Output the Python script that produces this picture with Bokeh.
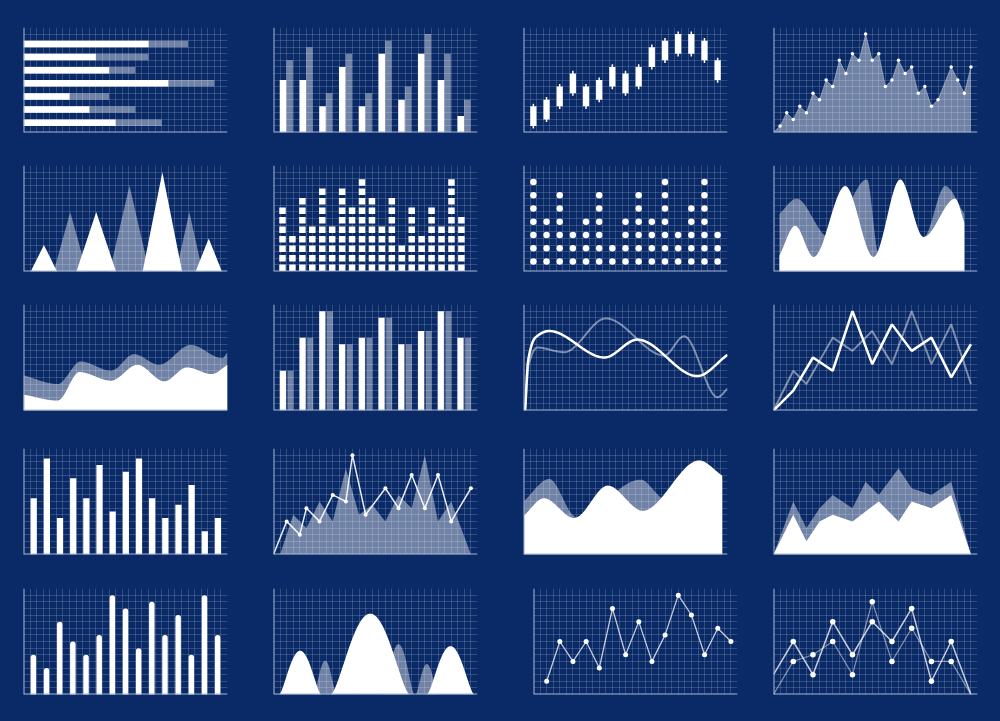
import numpy as np
from bokeh.plotting import figure
from bokeh.layouts import column, row
from bokeh.models import Range1d, FixedTicker, Span, GlobalInlineStyleSheet
from bokeh.embed import file_html
from bokeh.resources import INLINE

# ---------------- data (in grid units) ----------------
# 1 horizontal bars
hbar_white = [19, 11, 13, 22, 7, 10, 14]
hbar_total = [25, 19, 17, 29, 13, 17, 21]
# 2 grouped vertical bars
vbar_white = [8, 8, 4, 10, 4, 12, 5, 12, 8, 2.5]
vbar_gray = [11, 13, 6, 12, 6, 14, 7, 15, 12, 5]
# 3 candlesticks
candle_open = [1, 2, 4, 6, 4, 5, 7, 6, 7, 10, 11, 12, 12, 11, 8]
candle_close = [4, 5, 7, 9, 7, 8, 10, 9, 10, 13, 14, 15, 15, 14, 11]
candle_low = [0.6, 1.6, 3.6, 5.6, 3.6, 4.6, 6.6, 5.6, 6.6, 9.6, 10.6, 11.6, 11.6, 10.6, 7.6]
candle_high = [4.4, 5.4, 7.4, 9.4, 7.4, 8.4, 10.4, 9.4, 10.4, 13.4, 14.4, 15.4, 15.4, 14.4, 11.4]
# 4 area with markers
peak_x = [1, 2, 3, 4, 5, 6, 7, 8, 9, 10, 11, 12, 13, 14, 15, 16, 17, 18, 19, 20,
          21, 22, 23, 24, 25, 27, 28, 29, 30]
peak_y = [1, 3, 2, 4, 3, 6, 5, 8, 7, 11, 9, 12, 11, 15, 11, 12, 7, 8, 11, 9,
          10, 6, 7, 4, 5, 10, 8, 6, 10]
# 5 triangles
tri_white_x = [3.1, 11.05, 21.1, 28.15]
tri_white_h = [4, 9, 15, 5]
tri_white_w = [2, 3, 3, 2]
tri_gray_x = [7.1, 16.1, 25.2]
tri_gray_h = [9, 13, 9]
tri_gray_w = [2.5, 3, 2]
# 6 stacked blocks
block_counts = [7, 4, 8, 5, 9, 5, 9, 7, 10, 8, 5, 8, 3, 7, 4, 7, 5, 10, 6]
# 7 stacked dots
dot_counts = [7, 4, 6, 3, 4, 6, 2, 4, 6, 4, 7, 3, 5, 7, 3]
# 8 smooth bumps
bump_white_x = [0.9, 3.3, 6.1, 10.9, 15.2, 19.25, 22.8, 27.6, 29.0]
bump_white_y = [2.4, 6.9, 2.2, 12.9, 2.2, 13.9, 5.2, 11.0, 7.4]
bump_gray_x = [0.9, 3.5, 8.4, 14.2, 16.0, 19.5, 22.8, 26.1, 29.0]
bump_gray_y = [8.7, 11.0, 5.2, 13.9, 2.6, 12.4, 5.2, 12.9, 8.7]
# 9 waves
wave_gray_x = [0, 5.2, 8.7, 13.3, 16.8, 20.6, 25.4, 30.2, 31]
wave_gray_y = [5.3, 4.0, 7.4, 6.0, 8.5, 6.9, 9.9, 7.9, 8.8]
wave_white_x = [0, 5.2, 8.5, 13.3, 17.3, 21.4, 24.8, 28.6, 31]
wave_white_y = [2.4, 1.5, 5.8, 4.5, 6.9, 4.4, 6.5, 5.5, 6.9]
# 10 paired bars
pair_vals = [6, 11, 15, 10, 11, 14, 10, 12, 15, 11]
# 11 smooth lines
curve_white_x = [0.25, 0.7, 1.8, 3.9, 12.3, 17.3, 26.4, 31]
curve_white_y = [0, 7.5, 11.0, 12.0, 8.0, 10.7, 5.2, 8.4]
curve_gray_x = [0.25, 0.8, 2.1, 6.2, 12.5, 21.4, 24.4, 29.5, 31]
curve_gray_y = [0, 7.0, 9.5, 8.8, 13.9, 8.3, 11.2, 2.0, 3.3]
# 12 zigzag lines
zig_white_x = [0, 3, 6, 9, 12, 15, 18, 21, 24, 27, 30]
zig_white_y = [0, 3, 8, 6, 15, 7, 13, 9, 11, 5, 10]
zig_gray_x = [0, 3, 5, 9, 12, 15, 18, 21, 24, 27, 30]
zig_gray_y = [0, 6, 4, 11, 9, 12, 7, 15, 7, 13, 4]
# 13 thin bars
thin_vals = [8.5, 14.5, 5.5, 11.5, 8.5, 13.5, 6.5, 12.5, 14.5, 8.5, 5.5, 7.5, 10.5, 3.5, 5.5]
# 14 mountain + trace
mtn_x = [1, 3, 5, 7, 9, 11, 13, 15, 17, 19, 21, 23, 25, 27, 30]
mtn_y = [0, 6, 4, 8, 5, 13, 6, 7.5, 5, 9, 7, 15, 5, 8, 0]
trace_x = [0, 2, 4, 5, 7, 9, 11, 12, 14, 17, 19, 21, 23, 25, 27, 30]
trace_y = [0, 5, 3, 7, 5, 9, 8, 15, 6, 10, 7, 12, 7, 12, 5, 10]
# 15 hills
hill_gray_x = [0.1, 3.9, 8.0, 17.8, 21.5, 26.7, 30.2]
hill_gray_y = [8.1, 11.4, 5.7, 11.3, 8.4, 13.5, 11.5]
hill_white_x = [0.1, 3.1, 7.7, 12.8, 18.1, 26.7, 30.2]
hill_white_y = [5.9, 8.5, 5.5, 10.4, 6.6, 14.2, 11.9]
# 16 jagged areas
jag_gray_x = [0, 3, 5, 7, 9, 12, 14, 16, 19, 21, 24, 27, 30]
jag_gray_y = [0, 8, 4, 7, 9, 7, 11, 9, 13, 10, 9, 11, 0]
jag_white_x = [0, 3, 5, 7, 9, 12, 16, 19, 21, 24, 27, 30]
jag_white_y = [0, 6, 2, 5, 6, 5, 8, 5, 8, 7, 9, 0]
# 17 rounded bars
round_vals = [6, 4, 11, 8, 6, 9, 15, 13, 7, 14, 9, 12, 6, 15, 9]
# 18 bells
bell_white_c = [4.05, 14.7, 26.9]
bell_white_h = [6.6, 12.2, 7.3]
bell_white_w = [3.2, 6.0, 3.6]
bell_gray_c = [7.85, 19.0, 23.3]
bell_gray_h = [5.1, 7.6, 4.6]
bell_gray_w = [1.7, 2.4, 1.7]
# 19 single line with dots
spark_x = [2, 4, 6, 8, 10, 12, 14, 16, 18, 20, 22, 24, 26, 28, 30]
spark_y = [2, 8, 5, 8, 4, 13, 6, 11, 5, 9, 15, 12, 6, 10, 8]
# 20 two lines with dots
duo_x = [0, 3, 6, 9, 12, 15, 18, 21, 24, 27, 30]
duo_a = [3, 8, 3, 11, 6, 11, 8, 13, 2, 8, 0]
duo_b = [0, 5, 6, 8, 3, 14, 5, 10, 5, 5, 0]

# ---------------- styling ----------------
BG = "#0a2a67"
AXIS = "#aab6d2"
SOFT = 0.42

ROW_H = [148, 139, 141, 140, 153]
ROW_TOP = [27, 17, 17, 20, 20]
ROW_BOT = [16, 16, 18, 14, 27]


def make_fig(r, x0=0.0, x1=31.0, y0=0.0, y1=16.0, left=23, right=23):
    p = figure(width=250, height=ROW_H[r], x_range=Range1d(x0, x1), y_range=Range1d(y0, y1),
               output_backend="svg", toolbar_location=None,
               x_axis_location=None, y_axis_location=None,
               min_border_left=left, min_border_right=right,
               min_border_top=ROW_TOP[r], min_border_bottom=ROW_BOT[r],
               background_fill_color=BG, border_fill_color=BG, outline_line_color=None)
    p.xgrid.ticker = FixedTicker(ticks=list(np.linspace(x0, x1, 32)))
    p.ygrid.ticker = FixedTicker(ticks=list(np.linspace(y0, y1, 17)))
    p.grid.grid_line_color = "white"
    p.grid.grid_line_alpha = 0.16
    p.grid.grid_line_width = 1
    p.add_layout(Span(location=x0, dimension="height", line_color=AXIS, line_width=2))
    p.add_layout(Span(location=y0, dimension="width", line_color=AXIS, line_width=2))
    return p


def smooth(xk, yk, n=240):
    xk = np.asarray(xk, float)
    yk = np.asarray(yk, float)
    h = np.diff(xk)
    d = np.diff(yk) / h
    m = np.zeros_like(yk)
    m[0], m[-1] = d[0], d[-1]
    for i in range(1, len(xk) - 1):
        if d[i - 1] * d[i] <= 0:
            m[i] = 0.0
        else:
            w1 = 2 * h[i] + h[i - 1]
            w2 = h[i] + 2 * h[i - 1]
            m[i] = (w1 + w2) / (w1 / d[i - 1] + w2 / d[i])
    xs = np.linspace(xk[0], xk[-1], n)
    idx = np.clip(np.searchsorted(xk, xs) - 1, 0, len(xk) - 2)
    t = (xs - xk[idx]) / h[idx]
    h00 = 2 * t**3 - 3 * t**2 + 1
    h10 = t**3 - 2 * t**2 + t
    h01 = -2 * t**3 + 3 * t**2
    h11 = t**3 - t**2
    ys = h00 * yk[idx] + h10 * h[idx] * m[idx] + h01 * yk[idx + 1] + h11 * h[idx] * m[idx + 1]
    return xs, ys


def area(p, xs, ys, alpha=1.0):
    X = [xs[0]] + list(xs) + [xs[-1]]
    Y = [0] + list(ys) + [0]
    p.patch(X, Y, fill_color="white", fill_alpha=alpha, line_color=None)


figs = []

# 1
p = make_fig(0)
yc = 13.5 - 2 * np.arange(len(hbar_white))
p.hbar(y=yc, left=0, right=hbar_total, height=1, fill_color="white", fill_alpha=SOFT, line_color=None)
p.hbar(y=yc, left=0, right=hbar_white, height=1, fill_color="white", line_color=None)
figs.append(p)

# 2
p = make_fig(0)
xi = np.arange(len(vbar_white)) * 3
p.vbar(x=xi + 2.45, bottom=0, top=vbar_gray, width=1, fill_color="white", fill_alpha=SOFT, line_color=None)
p.vbar(x=xi + 1.45, bottom=0, top=vbar_white, width=1, fill_color="white", line_color=None)
figs.append(p)

# 3
p = make_fig(0)
xc = np.arange(len(candle_open)) * 2 + 1.5
p.segment(x0=xc, y0=candle_low, x1=xc, y1=candle_high, line_color="white", line_width=1.5)
p.vbar(x=xc, bottom=candle_open, top=candle_close, width=0.95, fill_color="white", line_color=None)
figs.append(p)

# 4
p = make_fig(0)
area(p, [0] + peak_x, [0] + peak_y, SOFT)
p.line([0] + peak_x, [0] + peak_y, line_color="white", line_alpha=0.35, line_width=1)
p.scatter(peak_x, peak_y, size=3.5, fill_color="white", line_color=None)
figs.append(p)

# 5
p = make_fig(1)
for cx, hh, ww, a in [(c, h, w, SOFT) for c, h, w in zip(tri_gray_x, tri_gray_h, tri_gray_w)] + \
                     [(c, h, w, 1.0) for c, h, w in zip(tri_white_x, tri_white_h, tri_white_w)]:
    p.patch([cx - ww, cx, cx + ww], [0, hh, 0], fill_color="white", fill_alpha=a, line_color=None)
figs.append(p)

# 6
p = make_fig(1, x0=0.095, x1=20.62, y0=0.6, y1=11.78)
bx, by = [], []
for i, c in enumerate(block_counts):
    for j in range(c):
        bx.append(i + 1)
        by.append(j + 1)
p.scatter(bx, by, marker="square", size=6.5, fill_color="white", line_color=None)
figs.append(p)

# 7
p = make_fig(1)
dx, dy = [], []
for i, c in enumerate(dot_counts):
    for j in range(c):
        dx.append(1.5 + 2 * i)
        dy.append(1.5 + 2 * j)
p.scatter(dx, dy, size=6.5, fill_color="white", line_color=None)
figs.append(p)

# 8
p = make_fig(1)
area(p, *smooth(bump_gray_x, bump_gray_y), SOFT)
area(p, *smooth(bump_white_x, bump_white_y), 1.0)
figs.append(p)

# 9
p = make_fig(2)
area(p, *smooth(wave_gray_x, wave_gray_y), SOFT)
area(p, *smooth(wave_white_x, wave_white_y), 1.0)
figs.append(p)

# 10
p = make_fig(2)
xi = np.arange(len(pair_vals)) * 3
p.vbar(x=xi + 1.42, bottom=0, top=pair_vals, width=0.95, fill_color="white", line_color=None)
p.vbar(x=xi + 2.58, bottom=0, top=pair_vals, width=0.9, fill_color="white", fill_alpha=SOFT, line_color=None)
figs.append(p)

# 11
p = make_fig(2)
gx, gy = smooth(curve_gray_x, curve_gray_y)
p.line(gx, gy, line_color="white", line_alpha=0.45, line_width=2)
wx, wy = smooth(curve_white_x, curve_white_y)
p.line(wx, wy, line_color="white", line_width=2.5)
figs.append(p)

# 12
p = make_fig(2)
p.line(zig_gray_x, zig_gray_y, line_color="white", line_alpha=0.45, line_width=2)
p.line(zig_white_x, zig_white_y, line_color="white", line_width=2.5)
figs.append(p)

# 13
p = make_fig(3)
p.vbar(x=np.arange(len(thin_vals)) * 2 + 1.55, bottom=0, top=thin_vals, width=0.95,
       fill_color="white", line_color=None)
figs.append(p)

# 14
p = make_fig(3)
p.patch(mtn_x, mtn_y, fill_color="white", fill_alpha=SOFT, line_color=None)
p.line(trace_x, trace_y, line_color="white", line_alpha=0.9, line_width=1.5)
p.scatter(trace_x[1:], trace_y[1:], size=4, fill_color="white", line_color=None)
figs.append(p)

# 15
p = make_fig(3)
area(p, *smooth(hill_gray_x, hill_gray_y), SOFT)
area(p, *smooth(hill_white_x, hill_white_y), 1.0)
figs.append(p)

# 16
p = make_fig(3)
p.patch(jag_gray_x, jag_gray_y, fill_color="white", fill_alpha=SOFT, line_color=None)
p.patch(jag_white_x, jag_white_y, fill_color="white", line_color=None)
figs.append(p)

# 17
p = make_fig(4)
rx = np.arange(len(round_vals)) * 2 + 1.5
p.segment(x0=rx, y0=-1, x1=rx, y1=np.array(round_vals) - 0.42, line_color="white",
          line_width=5.5, line_cap="round")
figs.append(p)

# 18
p = make_fig(4)
for c, hh, ww, a in [(c, h, w, SOFT) for c, h, w in zip(bell_gray_c, bell_gray_h, bell_gray_w)] + \
                    [(c, h, w, 1.0) for c, h, w in zip(bell_white_c, bell_white_h, bell_white_w)]:
    u = np.linspace(-1, 1, 160)
    p.patch(list(c + ww * u), list(hh * (1 - u ** 2) ** 1.6),
            fill_color="white", fill_alpha=a, line_color=None)
figs.append(p)

# 19
p = make_fig(4, left=33, right=13)
p.line(spark_x, spark_y, line_color="white", line_alpha=0.75, line_width=1.3)
p.scatter(spark_x, spark_y, size=5, fill_color="white", line_color=None)
figs.append(p)

# 20
p = make_fig(4)
p.line(duo_x, duo_b, line_color="white", line_alpha=0.45, line_width=1.3)
p.line(duo_x, duo_a, line_color="white", line_alpha=0.75, line_width=1.5)
p.scatter(duo_x[1:-1], duo_b[1:-1], size=5.5, fill_color="white", line_color=None)
p.scatter(duo_x[1:-1], duo_a[1:-1], size=5.5, fill_color="white", line_color=None)
figs.append(p)

sheet = GlobalInlineStyleSheet(css="html, body {margin:0 !important; padding:0; background:%s; overflow:hidden;}" % BG)
layout = column([row(figs[r * 4:(r + 1) * 4], spacing=0) for r in range(5)], spacing=0,
                stylesheets=[sheet])

open("out.html", "w").write(file_html(layout, INLINE))
